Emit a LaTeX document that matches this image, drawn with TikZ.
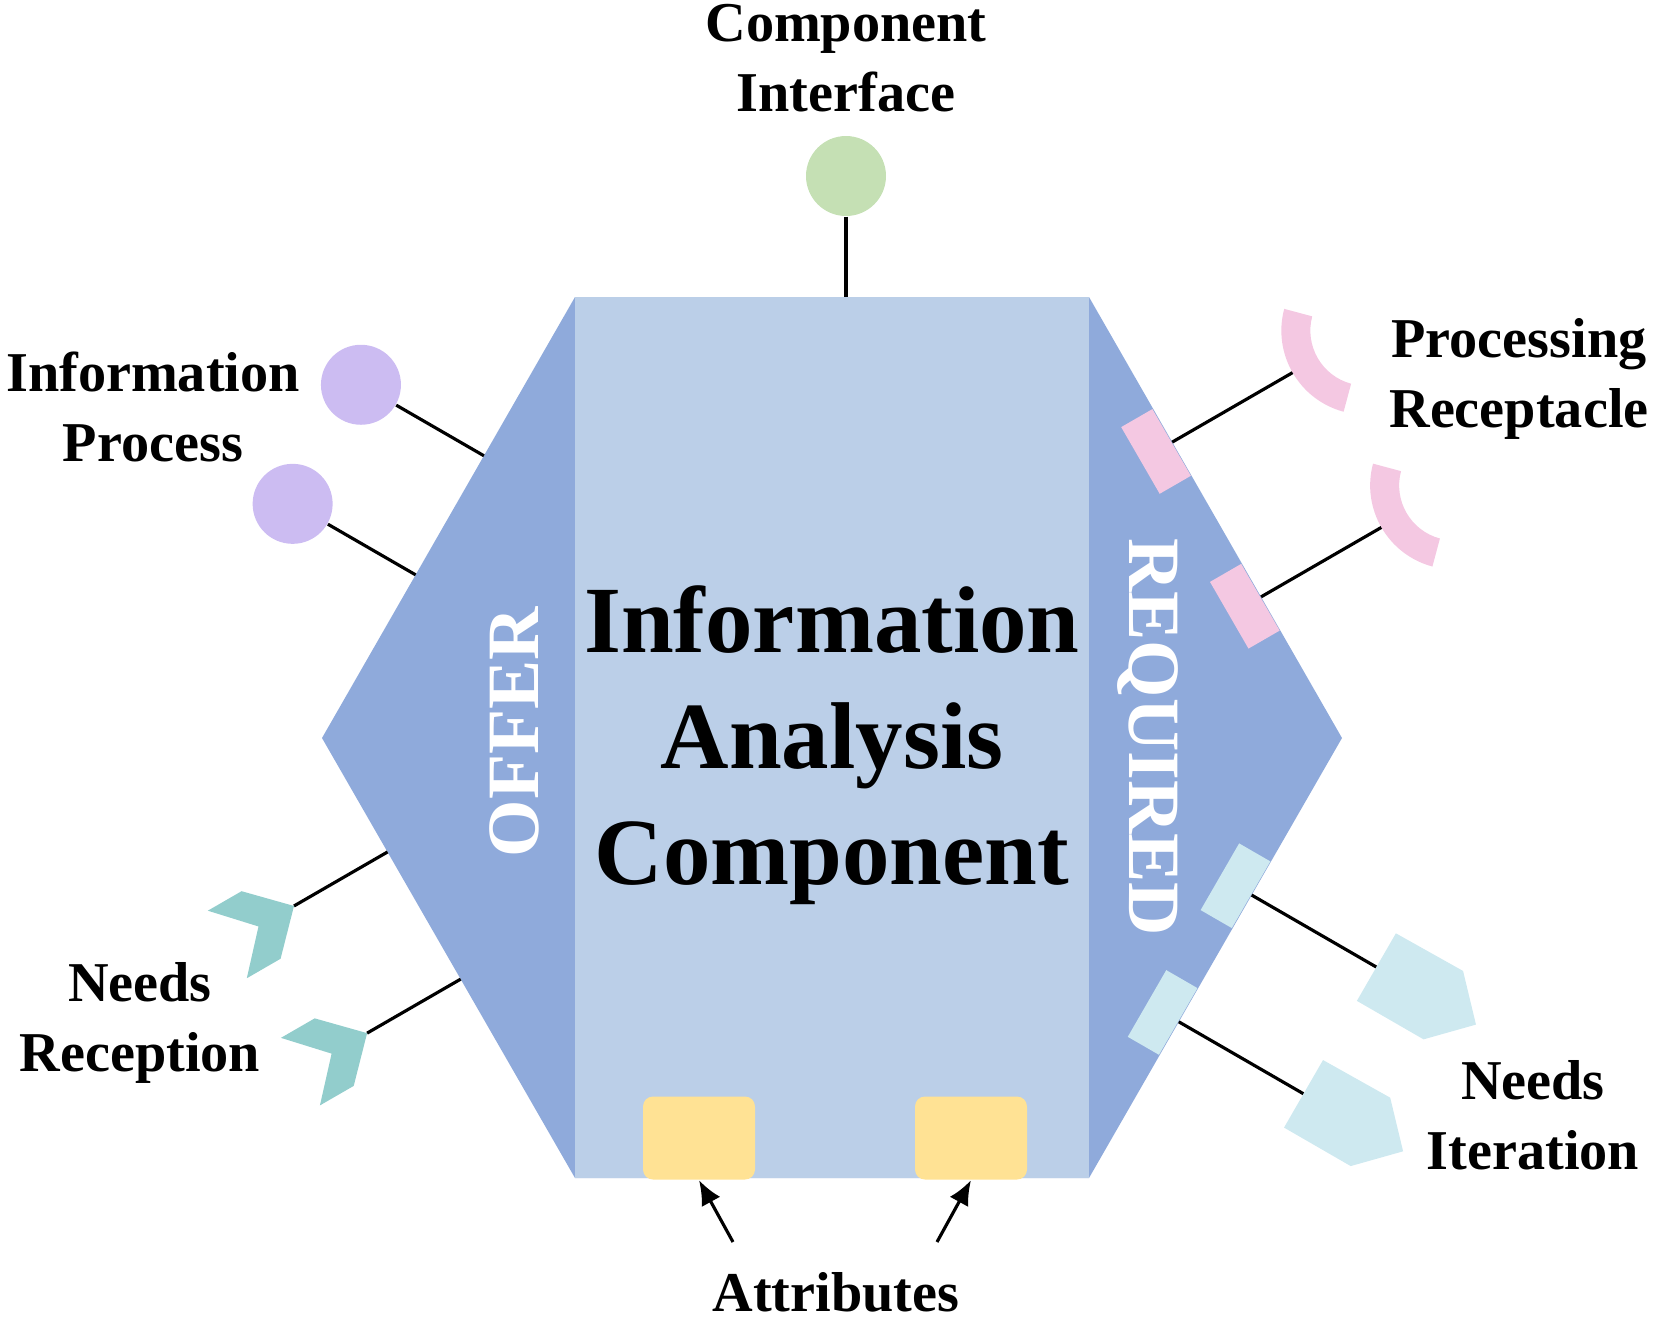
\documentclass[tikz,border=0pt]{standalone}
\usepackage{fontspec}
\setmainfont{Liberation Serif}
\usetikzlibrary{calc,arrows.meta}
\definecolor{hexout}{RGB}{143,170,219}
\definecolor{hexin}{RGB}{187,207,232}
\definecolor{ballgreen}{RGB}{197,224,180}
\definecolor{ballpurple}{RGB}{204,188,242}
\definecolor{sockpink}{RGB}{244,200,226}
\definecolor{recteal}{RGB}{146,205,204}
\definecolor{itercyan}{RGB}{206,233,240}
\definecolor{attryellow}{RGB}{255,226,148}
\begin{document}
\begin{tikzpicture}[x=0.1mm,y=0.1mm,
    lbl/.style={font=\fontsize{16}{19.9}\selectfont\bfseries,align=center,inner sep=1pt},
    ball/.style={circle,minimum size=8mm,inner sep=0pt},
    port/.style={minimum width=7.7mm,minimum height=3.6mm,inner sep=0pt},
    attr/.style={fill=attryellow,rounded corners=1mm,minimum width=11.2mm,minimum height=8.3mm,inner sep=0pt},
    side/.style={text=white,font=\fontsize{21}{25}\selectfont\bfseries},
    link/.style={line width=0.9pt}]
    \tikzset{>={Latex[length=7pt,width=6pt]}}
    \useasboundingbox (0,0) rectangle (1654,-1320);
    % hexagon body
    \coordinate (TL) at (575,-297);
    \coordinate (TR) at (1089,-297);
    \coordinate (R) at (1342,-738);
    \coordinate (BR) at (1089,-1178);
    \coordinate (BL) at (575,-1178);
    \coordinate (L) at (322,-738);
    \fill[hexout] (TL) -- (TR) -- (R) -- (BR) -- (BL) -- (L) -- cycle;
    \fill[hexin] (TL) rectangle (BR);
    \node[font=\fontsize{27}{33}\selectfont\bfseries,align=center] (comp) at (832,-745) {Information\\Analysis\\Component};
    \node[side,rotate=90] (offer) at (514,-732) {OFFER};
    \node[side,rotate=-90] (req) at (1148,-737) {REQUIRED};
    % component interface
    \node[ball,fill=ballgreen] (ci) at (846,-176) {};
    \coordinate (ciFoot) at (846,-297);
    \draw[link] (ci) -- (ciFoot);
    \node[lbl] (ciLbl) at (846,-58) {Component\\Interface};
    % information process
    \foreach \t/\n in {0.36/1,0.63/2} {
        \coordinate (ipFoot\n) at ($(TL)!\t!(L)$);
        \node[ball,fill=ballpurple] (ip\n) at ($(ipFoot\n)+(150:142)$) {};
        \draw[link] (ip\n) -- (ipFoot\n);
    }
    \node[lbl] (ipLbl) at (153,-407) {Information\\Process};
    % processing receptacle
    \foreach \t/\n in {0.329/1,0.680/2} {
        \coordinate (prFoot\n) at ($(TR)!\t!(R)$);
        \node[port,fill=sockpink,rotate=-60,anchor=north] (pr\n) at (prFoot\n) {};
        \coordinate (prEnd\n) at ($(prFoot\n)+(30:141)$);
        \draw[link] (pr\n.north) -- (prEnd\n);
        \fill[sockpink] ($(prEnd\n)+(30:82)+(165:84)$) arc[start angle=165,end angle=255,radius=84]
            -- ++(75:29) arc[start angle=255,end angle=165,radius=55] -- cycle;
    }
    \node[lbl] (prLbl) at (1519,-379) {Processing\\Receptacle};
    % needs iteration
    \foreach \t/\n in {0.357/1,0.645/2} {
        \coordinate (niFoot\n) at ($(R)!\t!(BR)$);
        \node[port,fill=itercyan,rotate=-120,anchor=north] (ni\n) at (niFoot\n) {};
        \coordinate (niEnd\n) at ($(niFoot\n)+(-30:144)$);
        \draw[link] (ni\n.north) -- (niEnd\n);
        \fill[itercyan,shift={(niEnd\n)},rotate=-30] (0,39) -- (77,40) -- (115,0) -- (77,-39) -- (0,-39) -- cycle;
    }
    \node[lbl] (niLbl) at (1533,-1115) {Needs\\Iteration};
    % needs reception
    \foreach \t/\n in {0.259/1,0.548/2} {
        \coordinate (nrFoot\n) at ($(L)!\t!(BL)$);
        \coordinate (nrEnd\n) at ($(nrFoot\n)+(210:108)$);
        \draw[link] (nrFoot\n) -- (nrEnd\n);
        \fill[recteal,shift={(nrEnd\n)},rotate=30] (0,0) -- (-38,39) -- (-77,39) -- (-41,0) -- (-77,-39) -- (-38,-39) -- cycle;
    }
    \node[lbl] (nrLbl) at (140,-1023) {Needs\\Reception};
    % attributes
    \node[attr] (at1) at (699,-1138) {};
    \node[attr] (at2) at (971,-1138) {};
    \node[lbl] (atLbl) at (836,-1292) {Attributes};
    \coordinate (atTail1) at (733,-1242);
    \coordinate (atTail2) at (937,-1242);
    \draw[link,->] (atTail1) -- (at1.south);
    \draw[link,->] (atTail2) -- (at2.south);
\end{tikzpicture}
\end{document}
